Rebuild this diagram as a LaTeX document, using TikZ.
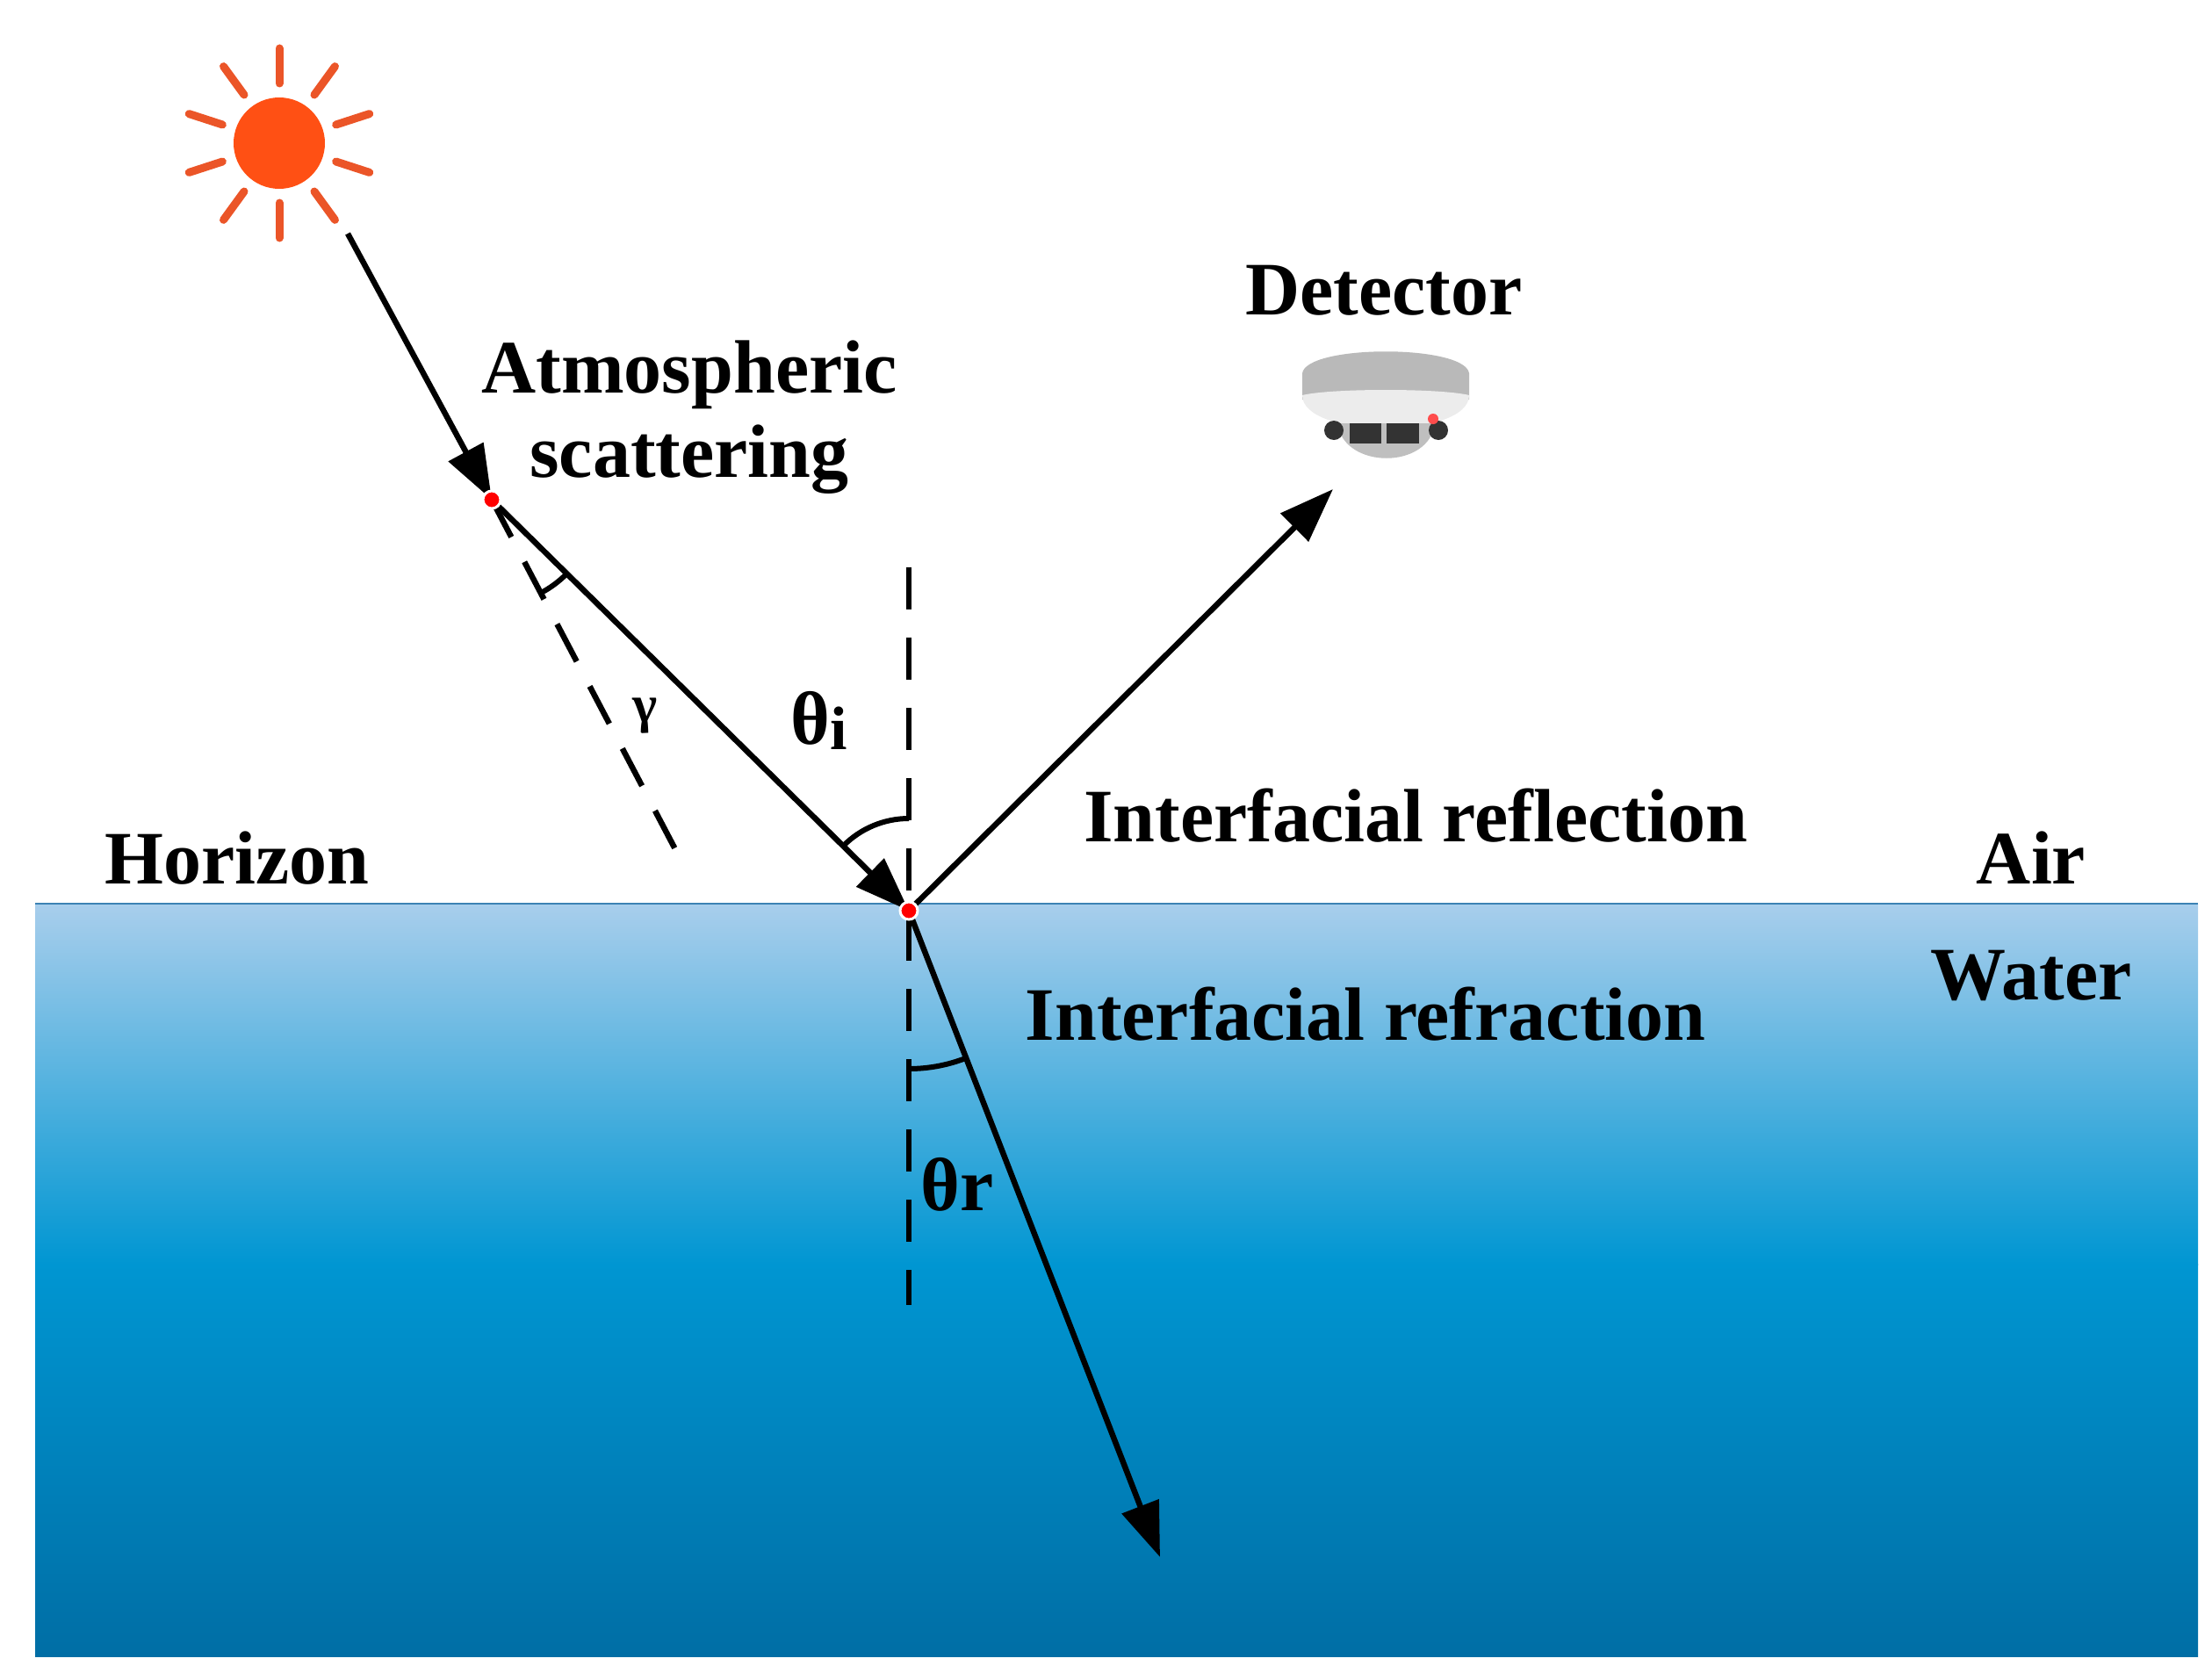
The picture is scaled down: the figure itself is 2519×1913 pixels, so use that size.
\documentclass[tikz,border=0pt]{standalone}
\usepackage{fontspec}
\setmainfont{Liberation Serif}
\usetikzlibrary{arrows.meta,calc}
\definecolor{wtop}{RGB}{168,206,236}
\definecolor{wmid}{RGB}{0,150,210}
\definecolor{wbot}{RGB}{0,110,165}
\definecolor{wline}{RGB}{60,130,180}
\definecolor{sunc}{RGB}{255,80,20}
\definecolor{sunr}{RGB}{235,85,40}
\begin{document}
\begin{tikzpicture}[x=1pt,y=-1pt,
  lbl/.style={font=\fontsize{86}{96}\selectfont\bfseries},
  ray/.style={line width=6.5pt,-{Triangle[length=62pt,width=44pt]}},
  dsh/.style={line width=6.5pt,dash pattern=on 48pt off 32pt},
  arcl/.style={line width=6pt},
  sunray/.style={line width=9pt,line cap=round,draw=sunr}]
\useasboundingbox (0,0) rectangle (2519,1913);
\shade[top color=wtop,bottom color=wmid] (40,1029) rectangle (2503,1440);
\shade[top color=wmid,bottom color=wbot] (40,1439) rectangle (2503,1886);
\draw[line width=2pt,wline] (40,1029) -- (2503,1029);
% sun
\fill[sunc] (318,163) circle (52);
\foreach \a in {90,54,18,-18,-54,-90,-126,-162,162,126}
  \draw[sunray] ($(318,163)+(\a:-68)$) -- ($(318,163)+(\a:-108)$);
% points
\coordinate (src) at (396,266);
\coordinate (sc) at (560,569);
\coordinate (o) at (1035,1037);
\coordinate (det) at (1518,557);
\coordinate (ref) at (1321,1773);
\coordinate (dend) at (780,988);
\coordinate (vt) at (1035,646);
\coordinate (vb) at (1035,1486);
\draw[dsh] (sc) -- (dend);
\draw[dsh] (vt) -- (vb);
\draw[ray] (src) -- (sc);
\draw[ray] (sc) -- (o);
\draw[ray] (o) -- (det);
\draw[ray] (o) -- (ref);
% arcs
\draw[arcl] ($(o)+(0,-105)$) arc[start angle=-90,end angle=-135.4,radius=105];
\draw[arcl] ($(sc)!120pt!(o)$) arc[start angle=44.6,end angle=62.6,radius=120];
\draw[arcl] ($(o)+(0,180)$) arc[start angle=90,end angle=68.5,radius=180];
\fill[red,draw=white,line width=3pt] (sc) circle (10);
\fill[red,draw=white,line width=3pt] (o) circle (10);
% detector
\fill[gray!55] (1483,455) -- (1483,425) .. controls (1488,392) and (1668,392) .. (1673,425) -- (1673,455) -- cycle;
\fill[gray!15] (1483,450) .. controls (1483,500) and (1673,500) .. (1673,450) .. controls (1640,442) and (1516,442) .. (1483,450);
\fill[gray!50] (1523,482) .. controls (1530,535) and (1628,535) .. (1634,482) -- cycle;
\fill[black!80] (1519,490) circle (11);
\fill[black!80] (1638,490) circle (11);
\fill[black!80] (1537,482) rectangle (1573,505);
\fill[black!80] (1579,482) rectangle (1616,505);
\fill[red!70] (1632,477) circle (6);
% labels
\node[lbl] (tdet) at (1576,331) {Detector};
\node[lbl,align=center] (tatm) at (785,475) {Atmospheric\\scattering};
\node[lbl] (tref) at (1612,929) {Interfacial reflection};
\node[lbl] (trefr) at (1555,1155) {Interfacial refraction};
\node[lbl] (thor) at (270,977) {Horizon};
\node[lbl] (tair) at (2313,977) {Air};
\node[lbl] (twat) at (2313,1111) {Water};
\node[lbl] (ti) at (933,820) {θ\raisebox{-6pt}{\fontsize{70}{80}\selectfont i}};
\node[lbl] (tg) at (735,815) {\fontsize{60}{60}\selectfont γ};
\node[lbl] (tr) at (1090,1349) {θr};
\end{tikzpicture}
\end{document}
